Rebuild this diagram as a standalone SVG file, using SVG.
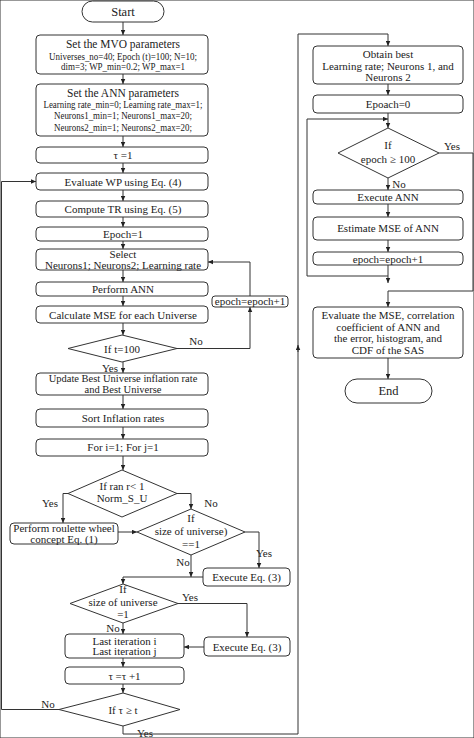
<svg xmlns="http://www.w3.org/2000/svg" width="474" height="738" viewBox="0 0 474 738">
<defs>
<marker id="ah" viewBox="0 0 10 10" refX="10" refY="5" markerWidth="6" markerHeight="5" orient="auto" markerUnits="userSpaceOnUse"><path d="M0,0.5 L10,5 L0,9.5 z" fill="#222"/></marker>
<style>
rect,polygon{fill:#fff;stroke:#333;stroke-width:1}
.c path,.c line,.c polyline{fill:none;stroke:#333;stroke-width:1}
text{font-family:"Liberation Serif","Times New Roman",serif;font-size:11px;fill:#222;text-anchor:middle}
.t{font-size:12.5px}
.s{font-size:10px}
</style>
</defs>
<rect width="474" height="738" fill="#fff" stroke="none"/>
<g class="c">
<line x1="123" y1="22" x2="123" y2="35" marker-end="url(#ah)"/>
<line x1="123" y1="74" x2="123" y2="84" marker-end="url(#ah)"/>
<line x1="123" y1="136" x2="123" y2="147" marker-end="url(#ah)"/>
<line x1="123" y1="163" x2="123" y2="173" marker-end="url(#ah)"/>
<line x1="123" y1="190" x2="123" y2="201" marker-end="url(#ah)"/>
<line x1="123" y1="217" x2="123" y2="227" marker-end="url(#ah)"/>
<line x1="123" y1="241" x2="123" y2="249" marker-end="url(#ah)"/>
<line x1="123" y1="270" x2="123" y2="282" marker-end="url(#ah)"/>
<line x1="123" y1="296" x2="123" y2="306" marker-end="url(#ah)"/>
<line x1="123" y1="323" x2="123" y2="335" marker-end="url(#ah)"/>
<polyline points="177,348.5 250,348.5 250,307" marker-end="url(#ah)"/>
<polyline points="250,296 250,262 208,262" marker-end="url(#ah)"/>
<line x1="123" y1="362" x2="123" y2="373" marker-end="url(#ah)"/>
<line x1="123" y1="395" x2="123" y2="409" marker-end="url(#ah)"/>
<line x1="123" y1="427" x2="123" y2="439" marker-end="url(#ah)"/>
<line x1="123" y1="456" x2="123" y2="470" marker-end="url(#ah)"/>
<polyline points="68,493.5 63,493.5 63,523" marker-end="url(#ah)"/>
<polyline points="177,493.5 191,493.5 191,509" marker-end="url(#ah)"/>
<line x1="118" y1="532" x2="137" y2="532" marker-end="url(#ah)"/>
<polyline points="245,532 259,532 259,568" marker-end="url(#ah)"/>
<line x1="191" y1="555" x2="191" y2="577" marker-end="url(#ah)"/>
<polyline points="203,577 123,577 123,584" marker-end="url(#ah)"/>
<polyline points="178,603.5 247,603.5 247,637" marker-end="url(#ah)"/>
<line x1="123" y1="623" x2="123" y2="634" marker-end="url(#ah)"/>
<line x1="204" y1="647" x2="184" y2="647" marker-end="url(#ah)"/>
<line x1="123" y1="658" x2="123" y2="667" marker-end="url(#ah)"/>
<line x1="123" y1="684" x2="123" y2="693" marker-end="url(#ah)"/>
<polyline points="59,709.5 1.5,709.5 1.5,181.5 36,181.5" marker-end="url(#ah)"/>
<polyline points="123,726 123,734 298,734 298,34 388,34 388,46" marker-end="url(#ah)"/>
<line x1="298" y1="352" x2="298" y2="345" marker-end="url(#ah)"/>
<line x1="388" y1="84" x2="388" y2="95" marker-end="url(#ah)"/>
<line x1="388" y1="113" x2="388" y2="128" marker-end="url(#ah)"/>
<polyline points="388,276 307,276 307,119 388,119" marker-end="url(#ah)"/>
<line x1="388" y1="178" x2="388" y2="190" marker-end="url(#ah)"/>
<line x1="388" y1="204" x2="388" y2="217" marker-end="url(#ah)"/>
<line x1="388" y1="240" x2="388" y2="252" marker-end="url(#ah)"/>
<line x1="388" y1="265" x2="388" y2="283" marker-end="url(#ah)"/>
<polyline points="439,153 473,153 473,291 388,291 388,307" marker-end="url(#ah)"/>
<line x1="388" y1="358" x2="388" y2="379" marker-end="url(#ah)"/>
<text x="196" y="345">No</text>
<text x="110" y="372">Yes</text>
<text x="50" y="507">Yes</text>
<text x="211" y="507">No</text>
<text x="264" y="557">Yes</text>
<text x="183" y="566">No</text>
<text x="190" y="601">Yes</text>
<text x="113" y="632">No</text>
<text x="48" y="708">No</text>
<text x="145" y="737">Yes</text>
<text x="399" y="188">No</text>
<text x="452" y="150">Yes</text>
</g>
<g id="start"><rect x="82" y="1" width="82" height="21" rx="10.5"/><text x="123" y="16" class="t">Start</text></g>
<g id="mvo"><rect x="36" y="35" width="172" height="39" rx="4"/><text x="123" y="48" class="t" textLength="114" lengthAdjust="spacingAndGlyphs">Set the MVO parameters</text><text x="123" y="59.5" class="s" textLength="148" lengthAdjust="spacingAndGlyphs">Universes_no=40; Epoch (t)=100; N=10;</text><text x="123" y="70" class="s" textLength="124" lengthAdjust="spacingAndGlyphs">dim=3; WP_min=0.2; WP_max=1</text></g>
<g id="ann"><rect x="36" y="84" width="172" height="52" rx="4"/><text x="123" y="96.5" class="t" textLength="112" lengthAdjust="spacingAndGlyphs">Set the ANN parameters</text><text x="123" y="107.5" class="s" textLength="159" lengthAdjust="spacingAndGlyphs">Learning rate_min=0; Learning rate_max=1;</text><text x="123" y="119" class="s" textLength="138" lengthAdjust="spacingAndGlyphs">Neurons1_min=1; Neurons1_max=20;</text><text x="123" y="130.5" class="s" textLength="138" lengthAdjust="spacingAndGlyphs">Neurons2_min=1; Neurons2_max=20;</text></g>
<g id="tau1"><rect x="36" y="147" width="172" height="16" rx="4"/><text x="123" y="159">τ =1</text></g>
<g id="evalwp"><rect x="36" y="173" width="172" height="17" rx="4"/><text x="123" y="185.5">Evaluate WP using Eq. (4)</text></g>
<g id="computetr"><rect x="36" y="201" width="172" height="16" rx="4"/><text x="123" y="213">Compute TR using Eq. (5)</text></g>
<g id="epoch1"><rect x="36" y="227" width="172" height="14" rx="4"/><text x="123" y="238">Epoch=1</text></g>
<g id="select"><rect x="36" y="249" width="172" height="21" rx="4"/><text x="123" y="257.5">Select</text><text x="123" y="268.5">Neurons1; Neurons2; Learning rate</text></g>
<g id="performann"><rect x="36" y="282" width="172" height="14" rx="4"/><text x="123" y="293">Perform ANN</text></g>
<g id="calcmse"><rect x="36" y="306" width="172" height="17" rx="4"/><text x="123" y="318.5">Calculate MSE for each Universe</text></g>
<g id="ift100"><polygon points="122,335 177,348.5 122,362 68,348.5"/><text x="122" y="352.5">If t=100</text></g>
<g id="epochinc1"><rect x="212" y="296" width="76" height="11" rx="3"/><text x="250" y="305">epoch=epoch+1</text></g>
<g id="update"><rect x="36" y="373" width="172" height="22" rx="4"/><text x="123" y="382" style="font-size:10.5px">Update Best Universe inflation rate</text><text x="123" y="393" style="font-size:10.5px">and Best Universe</text></g>
<g id="sort"><rect x="36" y="409" width="172" height="18" rx="4"/><text x="123" y="422">Sort Inflation rates</text></g>
<g id="fori"><rect x="36" y="439" width="172" height="17" rx="4"/><text x="123" y="451">For i=1; For j=1</text></g>
<g id="ifran"><polygon points="122,470 177,493.5 122,517 68,493.5"/><text x="122" y="490">If ran r&lt; 1</text><text x="122" y="502">Norm_S_U</text></g>
<g id="roulette"><rect x="10" y="523" width="108" height="21" rx="4"/><text x="64" y="532">Perform roulette wheel</text><text x="64" y="543">concept Eq. (1)</text></g>
<g id="ifsize1"><polygon points="191,509 245,532 191,555 137,532"/><text x="191" y="522">If</text><text x="191" y="535">size of universe)</text><text x="191" y="548">==1</text></g>
<g id="exec1"><rect x="203" y="568" width="87" height="18" rx="4"/><text x="246.5" y="581">Execute Eq. (3)</text></g>
<g id="ifsize2"><polygon points="123,584 178,603.5 123,623 70,603.5"/><text x="123" y="593">If</text><text x="123" y="606">size of universe</text><text x="123" y="618">=1</text></g>
<g id="exec2"><rect x="204" y="637" width="86" height="19" rx="4"/><text x="247" y="650.5">Execute Eq. (3)</text></g>
<g id="lastiter"><rect x="65" y="634" width="119" height="24" rx="4"/><text x="124.5" y="644.5">Last iteration i</text><text x="124.5" y="655">Last iteration j</text></g>
<g id="tauplus"><rect x="65" y="667" width="119" height="17" rx="4"/><text x="124.5" y="679.5">τ =τ +1</text></g>
<g id="iftau"><polygon points="123,693 180,709.5 123,726 59,709.5"/><text x="123" y="713.5">If  τ ≥  t</text></g>
<g id="obtain"><rect x="313" y="46" width="150" height="38" rx="4"/><text x="388" y="58">Obtain best</text><text x="388" y="70">Learning rate; Neurons 1, and</text><text x="388" y="81">Neurons 2</text></g>
<g id="epoach0"><rect x="313" y="95" width="150" height="18" rx="4"/><text x="388" y="108">Epoach=0</text></g>
<g id="ifepoch"><polygon points="388,128 439,153 388,178 338,153"/><text x="388" y="149">If</text><text x="388" y="163">epoch ≥ 100</text></g>
<g id="execann"><rect x="313" y="190" width="150" height="14" rx="4"/><text x="388" y="201">Execute ANN</text></g>
<g id="estimate"><rect x="313" y="217" width="150" height="23" rx="4"/><text x="388" y="232">Estimate MSE of ANN</text></g>
<g id="epochinc2"><rect x="313" y="252" width="150" height="13" rx="4"/><text x="388" y="262.5">epoch=epoch+1</text></g>
<g id="evaluate"><rect x="313" y="307" width="150" height="51" rx="4"/><text x="388" y="319">Evaluate the MSE, correlation</text><text x="388" y="330.5">coefficient of ANN and</text><text x="388" y="342">the error, histogram, and</text><text x="388" y="353.5">CDF of the SAS</text></g>
<g id="end"><rect x="345" y="379" width="87" height="24" rx="12"/><text x="388.5" y="395" class="t">End</text></g>
</svg>
